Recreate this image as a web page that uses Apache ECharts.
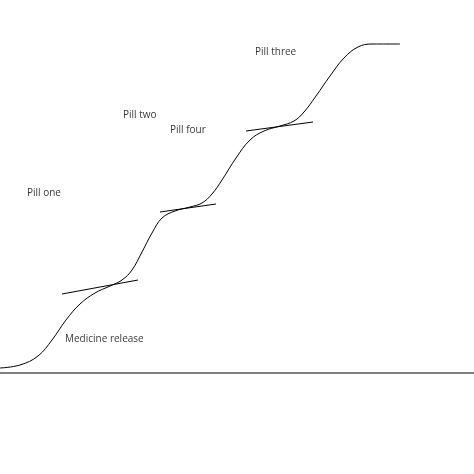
<!DOCTYPE html><html><head><meta charset="utf-8"><script src="https://cdn.jsdelivr.net/npm/echarts@6/dist/echarts.min.js"></script></head><body style="margin:0"><div id="c" style="width:474px;height:474px"></div><script>
const curve=[[0,368],[20,365],[38,356],[52,340],[66,320],[80,304],[95,293],[110,286],[122,280],[132,270],[142,252],[152,233],[162,218],[175,211],[190,207],[202,203],[212,194],[222,180],[236,158],[250,140],[264,131],[280,126],[294,121],[304,112],[316,96],[330,76],[344,58],[358,47],[372,44],[400,44]];
const tangents=[[[62,294],[138,280]],[[160,212],[216,204]],[[246,131],[313,122]]];
const baseline=[[0,373],[474,373]];
const labels=[["Pill three",255,52],["Pill two",123,115],["Pill four",170,130],["Pill one",27,193],["Medicine release",65,339]];
const series=[{type:'line',data:curve,smooth:0.4,showSymbol:false,lineStyle:{color:'#000',width:1}},
{type:'line',data:baseline,showSymbol:false,lineStyle:{color:'#000',width:1}}];
tangents.forEach(t=>series.push({type:'line',data:t,showSymbol:false,lineStyle:{color:'#000',width:1}}));
series.push({type:'scatter',symbolSize:0,data:labels.map(l=>({value:[l[1],l[2]],label:{show:true,formatter:l[0],position:'right',distance:0,color:'#000',fontSize:10,fontFamily:'Open Sans'}}))});
echarts.init(document.getElementById('c')).setOption({animation:false,grid:{left:0,right:0,top:0,bottom:0},
xAxis:{type:'value',min:0,max:474,show:false},yAxis:{type:'value',min:0,max:474,inverse:true,show:false},series});
</script></body></html>
